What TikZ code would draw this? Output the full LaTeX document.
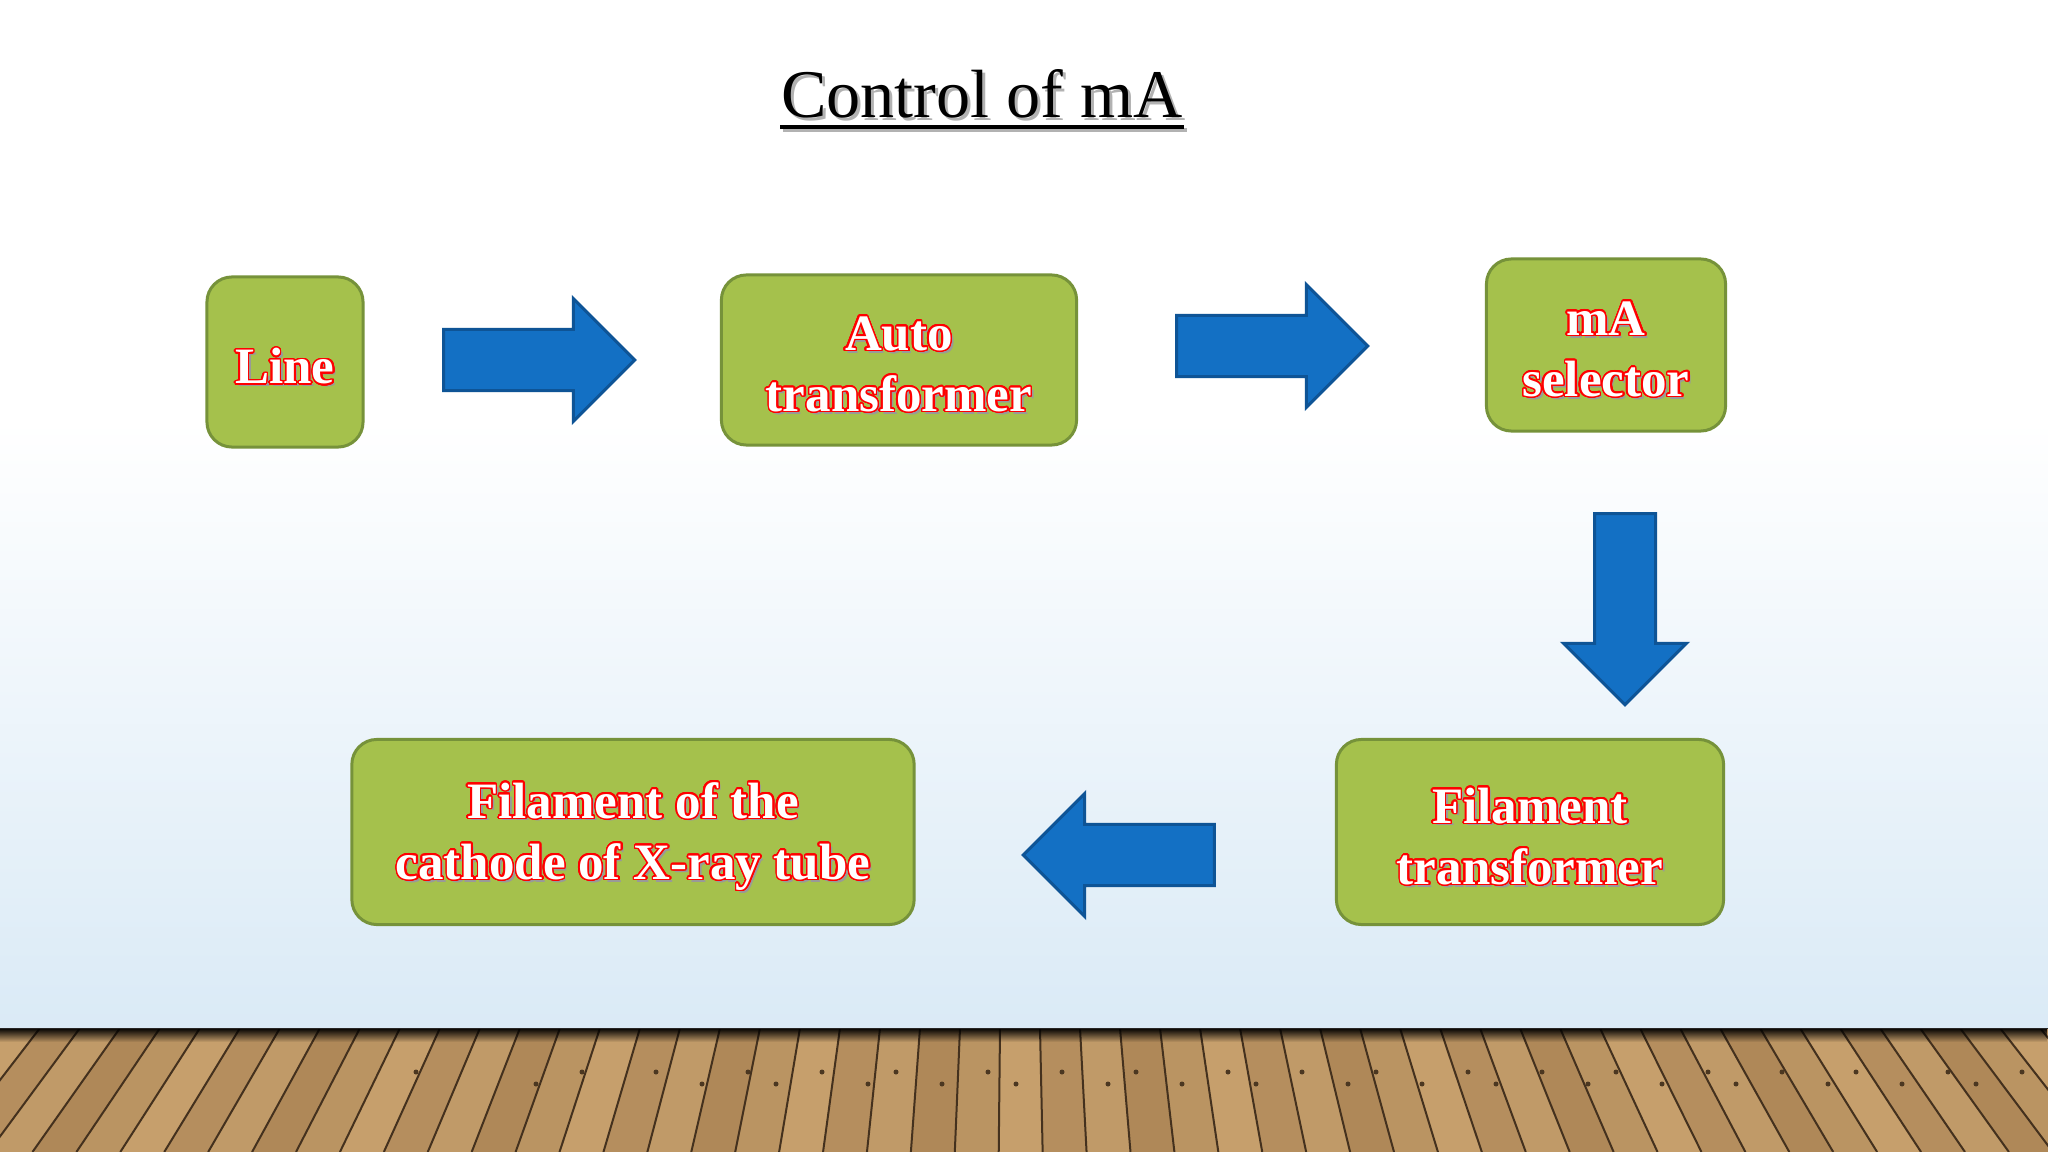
\documentclass[tikz,border=0pt]{standalone}
\usepackage{fontspec}
\setmainfont{Liberation Serif}
\usepackage{xcolor}
\usepackage{contour}
\usetikzlibrary{positioning,shapes.arrows,fadings}

\contourlength{0.42pt}
\contournumber{32}

\definecolor{boxgreen}{RGB}{165,193,76}
\definecolor{boxedge}{RGB}{118,146,58}
\definecolor{arrowblue}{RGB}{19,112,196}
\definecolor{arrowedge}{RGB}{14,84,150}
\definecolor{skyblue}{RGB}{218,234,246}
\definecolor{woodlight}{RGB}{206,168,116}
\definecolor{wooddark}{RGB}{150,110,66}

% white letters, red outline, soft shadow
\newcommand{\lbl}[1]{\raisebox{-1.6pt}[\height][\depth]{\rlap{\kern0.8pt\raisebox{-0.8pt}{\textcolor{black!40}{#1}}}\contour{red}{#1}}}

\tikzfading[name=floorfade, top color=transparent!0, bottom color=transparent!100]

\begin{document}
\begin{tikzpicture}[x=0.01cm,y=-0.01cm,
  box/.style={draw=boxedge,fill=boxgreen,line width=0.03cm,rounded corners=0.25cm,align=center,text=white,
    font=\fontsize{14.5pt}{17.4pt}\selectfont\bfseries,inner sep=0pt},
  blockarrow/.style={single arrow,draw=arrowedge,fill=arrowblue,line width=0.03cm,inner xsep=0pt,inner ysep=0.29cm,
    minimum height=1.91cm,single arrow head extend=0.31cm},
  titlefont/.style={font=\fontsize{19.4pt}{23pt}\selectfont,inner sep=0pt,anchor=base}]
\useasboundingbox (0,0) rectangle (2048,1152);

% wall
\fill[white] (0,0) rectangle (2048,420);
\shade[top color=white,bottom color=skyblue] (0,420) rectangle (2048,1028);

% floor
\begin{scope}
\clip (0,1028) rectangle (2048,1152);
\foreach \i in {0,...,54} {
  \pgfmathsetmacro\xa{-80+40*\i}
  \pgfmathsetmacro\xb{\xa+40}
  \pgfmathsetmacro\xc{1013+(\xb-1013)*1.098}
  \pgfmathsetmacro\xd{1013+(\xa-1013)*1.098}
  \pgfmathtruncatemacro\tone{45+10*mod(\i*7,5)}
  \pgfmathsetmacro\nx{\xa+16+6*mod(\i,3)}
  \pgfmathsetmacro\ny{1072+12*mod(\i,2)}
  \fill[woodlight!\tone!wooddark] (\xa,1028) -- (\xb,1028) -- (\xc,1152) -- (\xd,1152) -- cycle;
  \draw[wooddark!45!black,line width=0.02cm] (\xa,1028) -- (\xd,1152);
  \fill[wooddark!50!black] (\nx,\ny) circle (0.025cm);
}
\fill[black,path fading=floorfade] (0,1028) rectangle (2048,1042);
\draw[black!85,line width=0.025cm] (0,1028) -- (2048,1028);
\end{scope}

% title
\node[titlefont,text=black!30] (tshadow) at (985,121) {Control of mA};
\draw[black!30,line width=0.035cm] ([yshift=-0.09cm]tshadow.base west) -- ([yshift=-0.09cm]tshadow.base east);
\node[titlefont] (title) at (982,118) {Control of mA};
\draw[line width=0.035cm] ([yshift=-0.09cm]title.base west) -- ([yshift=-0.09cm]title.base east);

% boxes
\node[box,minimum width=1.56cm,minimum height=1.70cm] (line) at (285,362) {\lbl{Line}};
\node[box,minimum width=3.55cm,minimum height=1.70cm] (auto) at (899,360) {\lbl{Auto}\\\lbl{transformer}};
\node[box,minimum width=2.39cm,minimum height=1.72cm] (masel) at (1606,345) {\lbl{mA}\\\lbl{selector}};
\node[box,minimum width=3.87cm,minimum height=1.85cm] (filtr) at (1530,832) {\lbl{Filament}\\\lbl{transformer}};
\node[box,minimum width=5.62cm,minimum height=1.85cm] (cath) at (633,832) {\lbl{Filament of the}\\\lbl{cathode of X-ray tube}};

% block arrows
\node[blockarrow] (a1) at (524,360) {};
\node[blockarrow] (a2) at (1257,346) {};
\node[blockarrow,rotate=-90] (a3) at (1625,594) {};
\node[blockarrow,rotate=180] (a4) at (1134,855) {};
\end{tikzpicture}
\end{document}
